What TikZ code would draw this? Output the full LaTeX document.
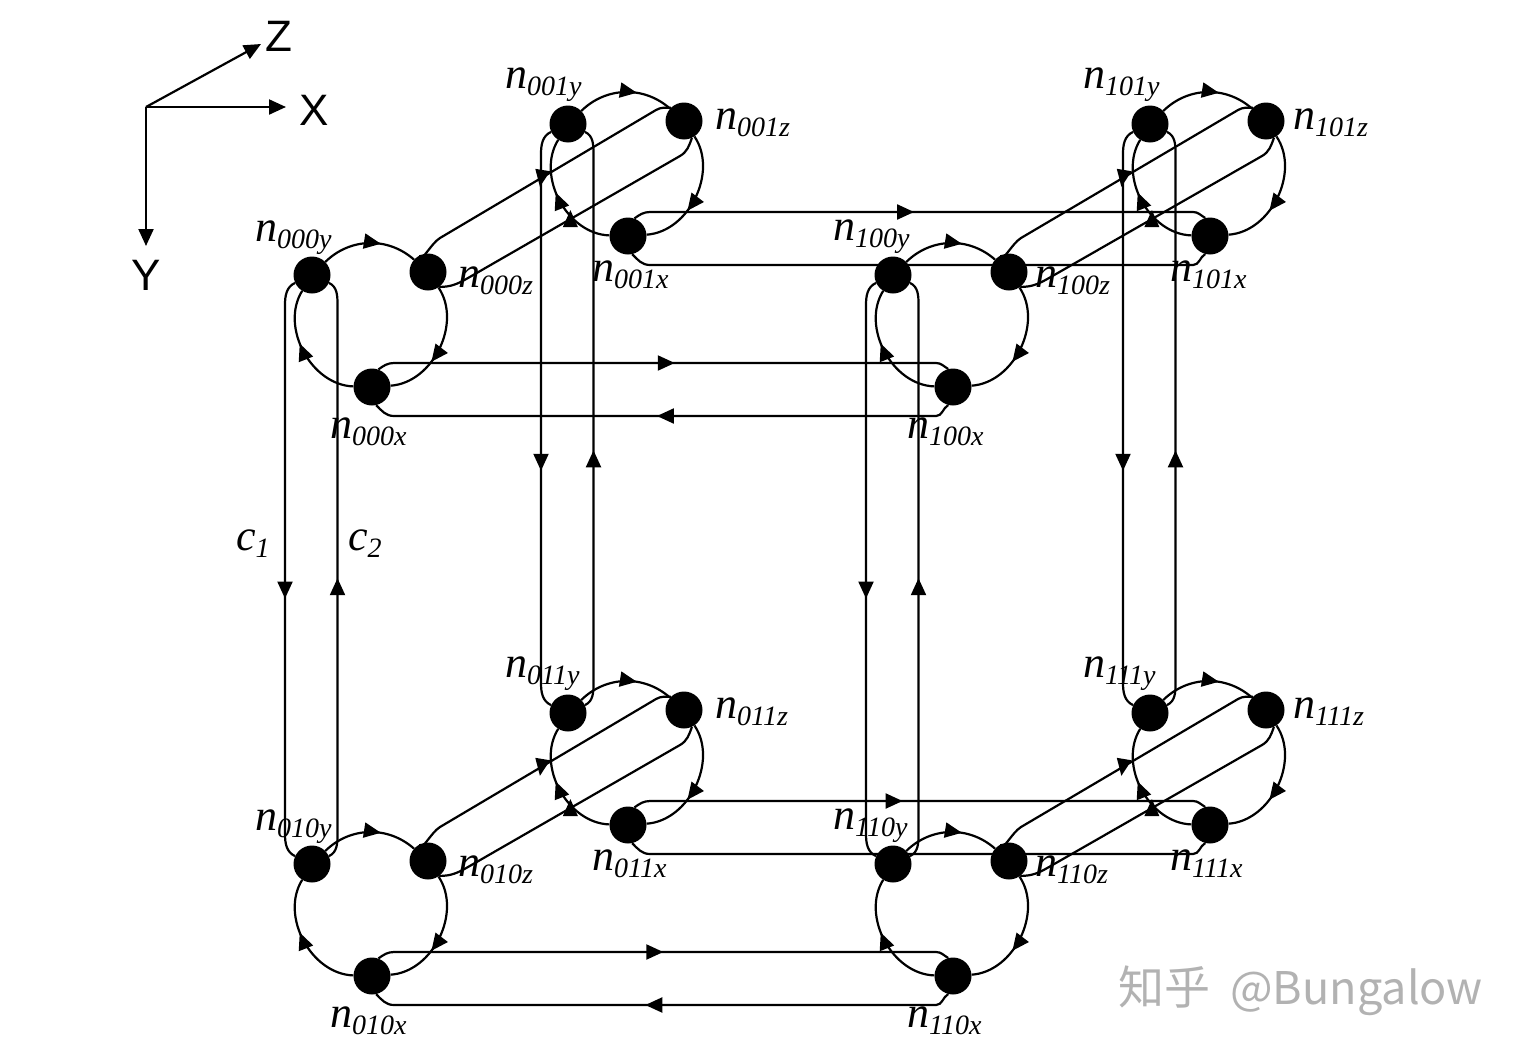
\documentclass[tikz,border=0pt]{standalone}
\usepackage{fontspec}
\setmainfont{Liberation Serif}
\setsansfont{Liberation Sans}
\newfontfamily\cjk{Noto Sans CJK SC}
\usetikzlibrary{arrows.meta,calc,decorations.markings}
\tikzset{
	wire/.style={line width=2.2pt},
	dot/.style={circle,fill=black,minimum size=37pt,inner sep=0pt},
	tip/.style={-{Triangle[length=17pt,width=15pt]}},
	midarrow/.style={postaction={decorate},decoration={markings,mark=at position #1 with {\arrow{Triangle[length=17pt,width=15pt]}}}},
	% head turned away from the line it sits on
	turnarrow/.style 2 args={postaction={decorate},decoration={markings,mark=at position #1 with {\fill[rotate=#2] (9,0) -- (-8,7.5) -- (-8,-7.5) -- cycle;}}},
	nlabel/.style={anchor=base west,inner sep=0pt},
	axis/.style={font=\sffamily\fontsize{44}{44}\selectfont,inner sep=0pt}
}
\newcommand{\nsub}[2]{{\fontsize{44}{44}\selectfont\itshape #1\raisebox{-7pt}{\fontsize{28}{28}\selectfont #2}}}
% args: code, shift x, shift y, then label offsets x (y,z,x) and y (y,z,x)
\newcommand{\ringnodes}[9]{
	\node[dot] (n#1y) at (312+#2,275+#3) {};
	\node[dot] (n#1z) at (428+#2,272+#3) {};
	\node[dot] (n#1x) at (372+#2,387+#3) {};
	\node[nlabel] (l#1y) at ($(n#1y)+(#4,#7)$) {\nsub{n}{#1y}};
	\node[nlabel] (l#1z) at ($(n#1z)+(#5,#8)$) {\nsub{n}{#1z}};
	\node[nlabel] (l#1x) at ($(n#1x)+(#6,#9)$) {\nsub{n}{#1x}};
	\draw[wire,midarrow=.62] (n#1y) to[bend left=43] (n#1z);
	\draw[wire,midarrow=.62] (n#1z) to[bend left=60] (n#1x);
	\draw[wire,midarrow=.57] (n#1x) to[bend left=60] (n#1y);
}
% vertical pair: #1 top, #2 bottom, arrow positions #3 and #4
\newcommand{\ylink}[4]{
	\draw[wire,midarrow=#3] (n#1y) to[out=205,in=90] ($(n#1y)+(-27,30)$) -- ($(n#2y)+(-27,-30)$) to[out=-90,in=155] (n#2y);
	\draw[wire,midarrow=#4] (n#2y) to[out=25,in=-90] ($(n#2y)+(25.5,-30)$) -- ($(n#1y)+(25.5,30)$) to[out=90,in=-25] (n#1y);
}
% front x pair, both with arrows
\newcommand{\xlink}[4]{
	\draw[wire,midarrow=#3] (n#1x.70) to[out=35,in=180] ($(n#1x)+(22,-24)$) -- ($(n#2x)+(-17,-24)$) to[out=0,in=150] (n#2x.105);
	\draw[wire,midarrow=#4] (n#2x.-105) to[out=-150,in=0] ($(n#2x)+(-17,29)$) -- ($(n#1x)+(22,29)$) to[out=180,in=-45] (n#1x.-77);
}
% back x pair, arrow on the upper line only
\newcommand{\xback}[3]{
	\draw[wire,midarrow=#3] (n#1x.70) to[out=35,in=180] ($(n#1x)+(22,-24)$) -- ($(n#2x)+(-17,-24)$) to[out=0,in=150] (n#2x.105);
	\draw[wire] (n#2x.-105) to[out=-150,in=0] ($(n#2x)+(-17,29)$) -- ($(n#1x)+(22,29)$) to[out=180,in=-45] (n#1x.-77);
}
\newcommand{\zlink}[2]{
	\draw[wire,turnarrow={.5}{50}] (n#2z.135) to[out=180,in=30] ($(n#2z)+(-28,-11)$) -- ($(n#1z)+(12,-34)$) to[out=210,in=-90] (n#1z.115);
	\draw[wire,turnarrow={.5}{60}] (n#1z.-53) to[out=0,in=210] ($(n#1z)+(40,6)$) -- ($(n#2z)+(-4,35)$) to[out=30,in=-110] (n#2z.-65);
}
\begin{document}
\begin{tikzpicture}[x=1pt,y=-1pt]
	\useasboundingbox (0,0) rectangle (1517,1060);
	
	%%%%% AXES %%%%%
	\coordinate (origin) at (146,107);
	\coordinate (zend) at (261,44);
	\coordinate (xend) at (286,107);
	\coordinate (yend) at (146,246);
	\draw[wire,tip] (origin) -- (zend);
	\draw[wire,tip] (origin) -- (xend);
	\draw[wire,tip] (origin) -- (yend);
	\node[axis] (zlabel) at (279,36) {Z};
	\node[axis] (xlabel) at (314,110) {X};
	\node[axis] (ylabel) at (146,275) {Y};
	
	%%%%% RINGS %%%%%
	\ringnodes{000}{0}{0}{-57}{30}{-42}{-34}{15}{51}
	\ringnodes{001}{256}{-151}{-63}{31}{-36}{-36}{8}{45}
	\ringnodes{100}{581}{0}{-60}{26}{-46}{-35}{15}{51}
	\ringnodes{101}{838}{-151}{-67}{27}{-40}{-36}{8}{45}
	\ringnodes{010}{0}{589}{-57}{30}{-42}{-34}{15}{51}
	\ringnodes{011}{256}{438}{-63}{31}{-36}{-36}{8}{45}
	\ringnodes{110}{581}{589}{-60}{26}{-46}{-35}{15}{51}
	\ringnodes{111}{838}{438}{-67}{27}{-40}{-36}{8}{45}
	
	%%%%% LINKS %%%%%
	\ylink{000}{010}{.55}{.485}
	\ylink{100}{110}{.55}{.485}
	\ylink{001}{011}{.59}{.445}
	\ylink{101}{111}{.59}{.445}
	
	\xlink{000}{100}{.52}{.51}
	\xlink{010}{110}{.50}{.53}
	\xback{001}{101}{.49}
	\xback{011}{111}{.47}
	
	\zlink{000}{001}
	\zlink{010}{011}
	\zlink{100}{101}
	\zlink{110}{111}
	
	\node[nlabel] (c1) at (236,550) {\nsub{c}{1}};
	\node[nlabel] (c2) at (348,550) {\nsub{c}{2}};
	
	\node[anchor=base west,inner sep=0pt,text=black!30] (mark) at (1118,1004) {\cjk\fontsize{46}{46}\selectfont 知乎\hspace{20pt}\fontsize{45}{45}\selectfont @Bungalow};
\end{tikzpicture}
\end{document}
